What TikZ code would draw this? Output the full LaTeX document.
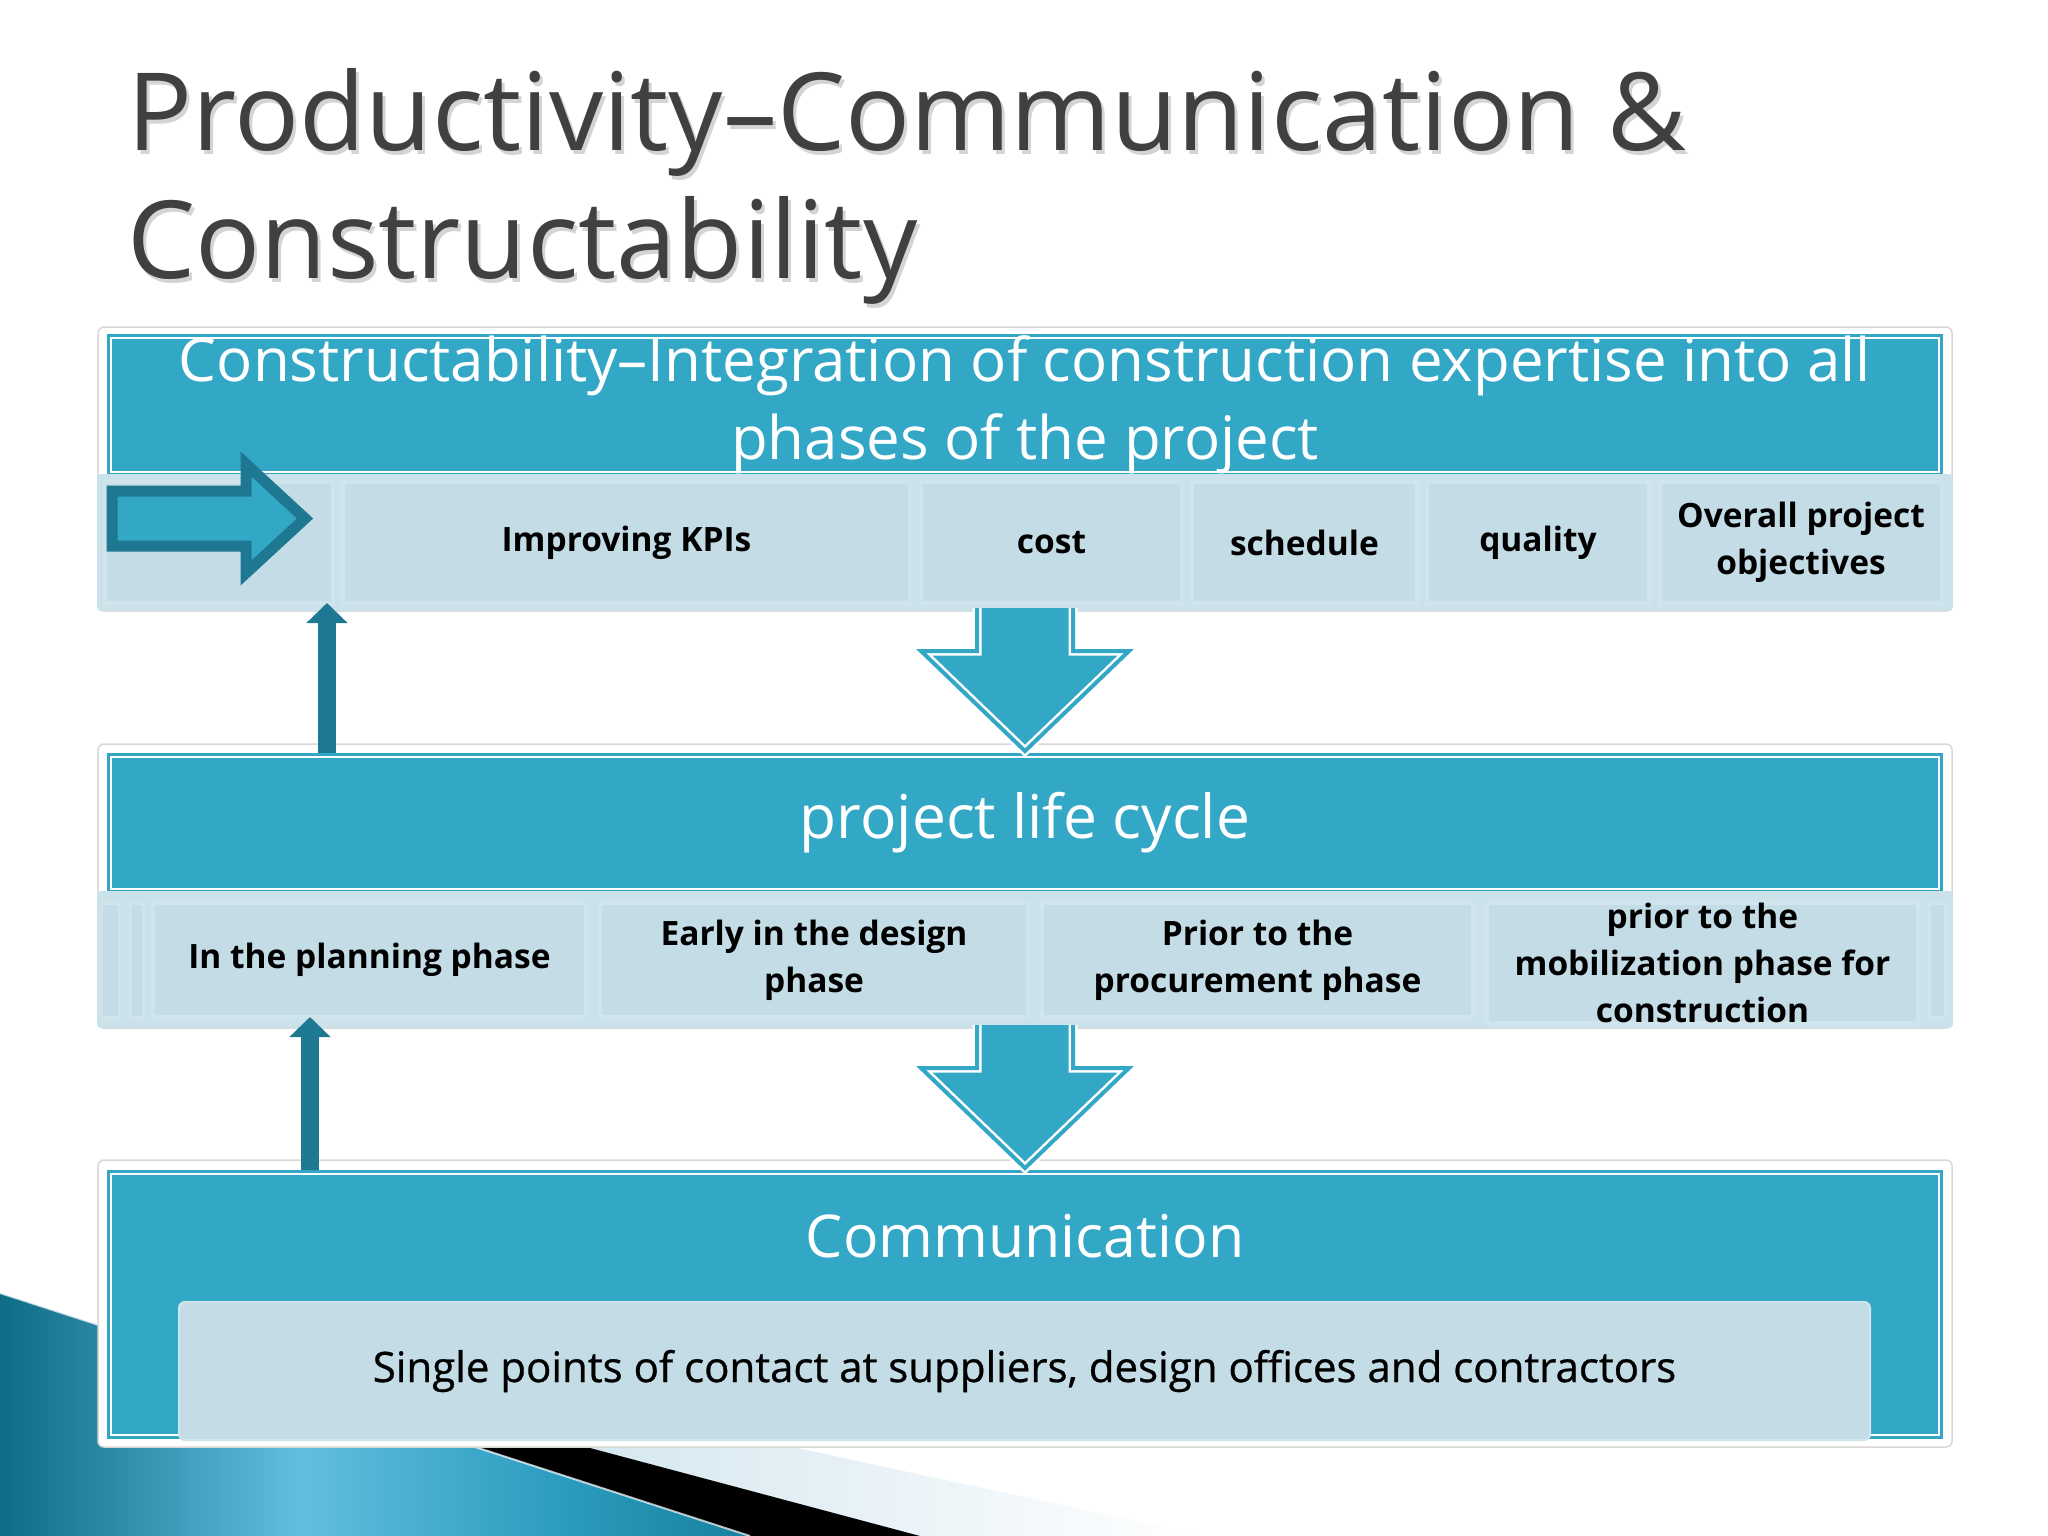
\documentclass[tikz,border=0pt]{standalone}
\usepackage{fontspec}
\setmainfont{Open Sans}
\newfontfamily\medfont[FakeBold=0.7]{Open Sans}
\usetikzlibrary{arrows.meta,calc}
\definecolor{hdr}{HTML}{33A7C6}
\definecolor{stripbg}{HTML}{CBE2EA}
\definecolor{cellbg}{HTML}{C3DCE5}
\definecolor{cellline}{HTML}{D0E4EB}
\definecolor{arrdark}{HTML}{1E7892}
\definecolor{titlegray}{HTML}{404040}
\definecolor{frameline}{HTML}{D8D8D8}
\definecolor{decoteal}{HTML}{0F6C87}
\definecolor{decolight}{HTML}{62BEDE}
\definecolor{decomid}{HTML}{2C9DBF}
\definecolor{decoedge}{HTML}{17809E}
\definecolor{decopale}{HTML}{D3E6EF}
\pgfdeclarehorizontalshading{decoshade}{100bp}{color(0bp)=(decoteal); color(25bp)=(decoteal); color(45bp)=(decolight); color(62bp)=(decomid); color(75bp)=(decoedge); color(100bp)=(decoedge)}
\newcommand{\titlesize}{\fontsize{108}{128}\selectfont}
\newcommand{\hdrsize}{\fontsize{60}{78}\selectfont}
\newcommand{\plcsize}{\fontsize{60.5}{66}\selectfont}
\newcommand{\commsize}{\fontsize{59}{66}\selectfont}
\newcommand{\labelsize}{\fontsize{33.5}{47}\selectfont}
\newcommand{\bottomsize}{\fontsize{42}{48}\selectfont}
\newcommand{\rectnode}[7]{\node[#6, anchor=north west, inner sep=0pt, outer sep=0pt, minimum width={#4-#2}, minimum height={#5-#3}] (#1) at (#2,#3) {#7};}
\newcommand{\tealdown}[2]{\path[fill=hdr, postaction={draw=white, line width=9pt, line join=miter}, postaction={draw=hdr, line width=4pt, line join=miter}] let \p1=(#1), \p2=(#2) in (\x1-48pt,\y1+3pt) -- (\x1-48pt,\y2+102pt) -- (\x1-104pt,\y2+102pt) -- (\x1,\y2+2pt) -- (\x1+104pt,\y2+102pt) -- (\x1+48pt,\y2+102pt) -- (\x1+48pt,\y1+3pt);}
\begin{document}
\begin{tikzpicture}[x=1pt,y=-1pt,
  frame/.style={fill=white, draw=frameline, line width=1.5pt, rounded corners=6pt},
  hdrbox/.style={fill=hdr, draw=none, text=white, align=center},
  strip/.style={fill=stripbg, draw=none, rounded corners=4pt},
  cell/.style={fill=cellbg, draw=cellline, line width=4pt, align=center, font=\labelsize\bfseries, text=black},
  bottombox/.style={fill=cellbg, draw=cellline, line width=2pt, rounded corners=6pt, font=\bottomsize\medfont, text=black},
  uparr/.style={draw=arrdark, line width=18pt, -{Triangle[width=40pt,length=20pt]}},
  bigright/.style={draw=arrdark, fill=hdr, line width=11pt, line join=miter}
]
\useasboundingbox (0,0) rectangle (2048,1536);
\fill[white] (0,0) rectangle (2048,1536);

% decoration bottom left
\shade[shading=decoshade] (0,1293) -- (752,1536) -- (0,1536) -- cycle;
\shade[left color=decopale, right color=white] (560,1440) -- (920,1536) -- (1205,1536) -- (760,1440) -- cycle;
\fill[black] (455,1440) -- (750,1536) -- (920,1536) -- (560,1440) -- cycle;
\draw[white, opacity=.7, line width=2pt] (0,1293) -- (750,1536);

% title
\node[anchor=base west, font=\titlesize, text=black!17] at (127,154) {Productivity–Communication \&};
\node[anchor=base west, font=\titlesize, text=titlegray] (title1) at (124,150) {Productivity–Communication \&};
\node[anchor=base west, font=\titlesize, text=black!17] at (127,282) {Constructability};
\node[anchor=base west, font=\titlesize, text=titlegray] (title2) at (124,278) {Constructability};

% top group
\rectnode{topframe}{98}{327}{1952}{611}{frame}{}
\rectnode{hdr1}{107}{334}{1943}{476}{hdrbox, font=\hdrsize}{Constructability–Integration of construction expertise into all\\phases of the project}
\draw[white, line width=1.5pt] ($(hdr1.north west)+(4,4)$) rectangle ($(hdr1.south east)+(-4,-4)$);
\rectnode{strip1}{97}{474}{1953}{611}{strip}{}
\rectnode{c0}{105}{482}{333}{603}{cell}{}
\rectnode{c1}{343}{482}{910}{603}{cell}{Improving KPIs}
\rectnode{c2}{921}{482}{1182}{603}{cell}{cost}
\rectnode{c3}{1192}{482}{1417}{603}{cell}{schedule}
\rectnode{c4}{1427}{482}{1649}{603}{cell}{quality}
\rectnode{c5}{1660}{482}{1942}{603}{cell}{Overall project\\objectives}
\draw[bigright] (112,491) -- (246,491) -- (246,464) -- (305,518.5) -- (246,573) -- (246,546) -- (112,546) -- cycle;

% middle group
\rectnode{midframe}{98}{744}{1952}{1028}{frame}{}
\rectnode{hdr2}{107}{753}{1943}{893}{hdrbox, font=\plcsize}{project life cycle}
\draw[white, line width=1.5pt] ($(hdr2.north west)+(4,4)$) rectangle ($(hdr2.south east)+(-4,-4)$);
\rectnode{strip2}{97}{891}{1953}{1028}{strip}{}
\fill[cellbg, draw=cellline, line width=3pt] (101,903) rectangle (119,1017);
\fill[cellbg, draw=cellline, line width=3pt] (130,903) rectangle (143,1017);
\fill[cellbg, draw=cellline, line width=3pt] (1929,903) rectangle (1945,1017);
\rectnode{m1}{153}{903}{586}{1017}{cell}{In the planning phase}
\rectnode{m2}{600}{903}{1028}{1017}{cell}{Early in the design\\phase}
\rectnode{m3}{1042}{903}{1473}{1017}{cell}{Prior to the\\procurement phase}
\rectnode{m4}{1487}{903}{1918}{1017}{cell}{prior to the\\mobilization phase for\\construction}

% bottom group
\rectnode{botframe}{98}{1160}{1952}{1447}{frame}{}
\rectnode{hdr3}{107}{1170}{1943}{1439}{hdrbox}{}
\draw[white, line width=1.5pt] ($(hdr3.north west)+(4,4)$) rectangle ($(hdr3.south east)+(-4,-4)$);
\node[font=\commsize, text=white] (comm) at (1025,1236) {Communication};
\rectnode{b1}{179}{1302}{1870}{1440}{bottombox}{Single points of contact at suppliers, design offices and contractors}

% connectors
\tealdown{topframe.south}{hdr2.north}
\tealdown{midframe.south}{hdr3.north}
\coordinate (ua1) at (327,0);
\coordinate (ua2) at (310,0);
\draw[uparr] (ua1 |- hdr2.north) -- (ua1 |- c0.south);
\draw[uparr] (ua2 |- hdr3.north) -- (ua2 |- m1.south);
\end{tikzpicture}
\end{document}
